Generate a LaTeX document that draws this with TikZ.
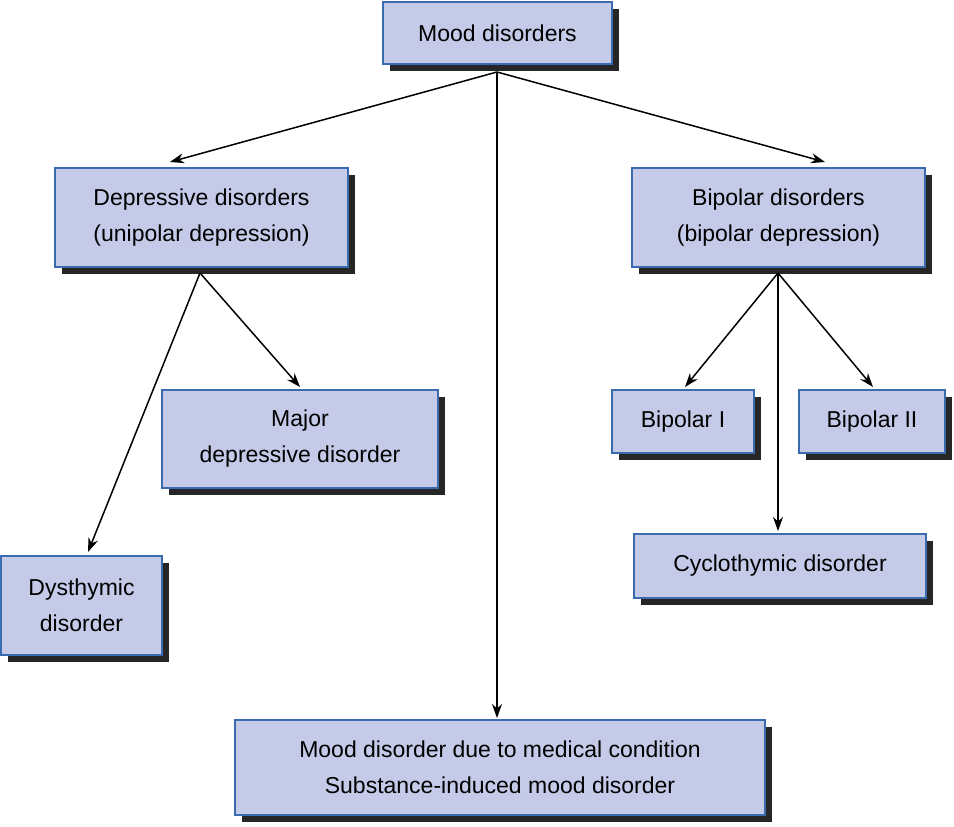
\documentclass[tikz,border=0pt]{standalone}
\usepackage{fontspec}
\setmainfont{Liberation Sans}
\usetikzlibrary{arrows.meta}
\definecolor{boxfill}{HTML}{C5CAE8}
\definecolor{boxline}{HTML}{3A6AB0}
\begin{document}
\begin{tikzpicture}[x=1pt,y=-1pt,
  box/.style={draw=boxline,line width=1.5pt,fill=boxfill,align=center,inner sep=0pt,
    font=\fontsize{23}{36}\selectfont,
    postaction={},
  },
  arr/.style={-{Stealth[length=14pt,width=10pt]},line width=1.5pt}]
\useasboundingbox (0,0) rectangle (954,827);
\newcommand\bx[6]{%
  \fill[black!85] (#2+7,#3+7) rectangle (#4+7,#5+7);
  \node[box,minimum width=#4-#2,minimum height=#5-#3] (#1) at ({(#2+#4)/2},{(#3+#5)/2}) {#6};}
\bx{mood}{383}{2}{612}{64}{Mood disorders}
\bx{dep}{55}{168}{348}{267}{Depressive disorders\\(unipolar depression)}
\bx{bip}{632}{168}{925}{267}{Bipolar disorders\\(bipolar depression)}
\bx{maj}{162}{390}{438}{488}{Major\\depressive disorder}
\bx{dys}{1}{556}{162}{655}{Dysthymic\\disorder}
\bx{b1}{612}{390}{754}{453}{Bipolar I}
\bx{b2}{799}{390}{945}{453}{Bipolar II}
\bx{cyc}{634}{534}{926}{598}{Cyclothymic disorder}
\bx{med}{235}{720}{765}{815}{Mood disorder due to medical condition\\Substance-induced mood disorder}
\coordinate (m0) at (497,72);
\coordinate (d0) at (200,273);
\coordinate (p0) at (778,273);
\draw[arr] (m0) -- (170,162) coordinate (t1);
\draw[arr] (m0) -- (825,162) coordinate (t2);
\draw[arr] (m0) -- (497,718) coordinate (t3);
\draw[arr] (d0) -- (300,387) coordinate (t4);
\draw[arr] (d0) -- (88,552) coordinate (t5);
\draw[arr] (p0) -- (685,387) coordinate (t6);
\draw[arr] (p0) -- (873,387) coordinate (t7);
\draw[arr] (p0) -- (778,531) coordinate (t8);
\end{tikzpicture}
\end{document}
